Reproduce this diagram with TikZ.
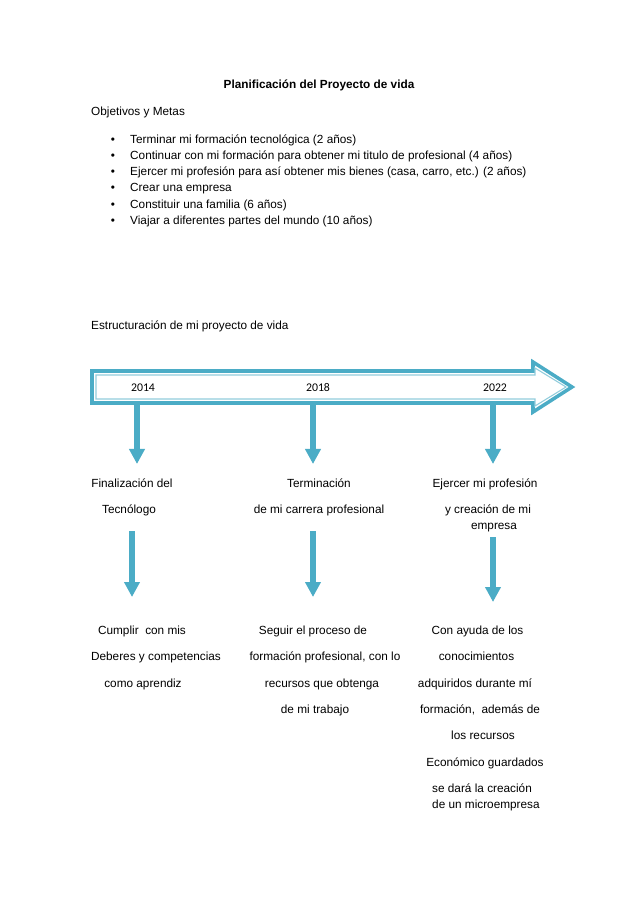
\documentclass[tikz,border=0pt]{standalone}
\usepackage{fontspec}
\setmainfont{Liberation Sans}
\newfontfamily\yearfont{Carlito}
\usetikzlibrary{arrows.meta}
\definecolor{TimeBlue}{HTML}{4BACC6}
\definecolor{TimeLight}{HTML}{92CDDC}
\tikzset{
  txt/.style={font=\fontsize{11}{13}\selectfont, inner sep=0pt, anchor=mid, yshift=-1.8pt},
  lefttxt/.style={txt, anchor=mid west},
  year/.style={font=\yearfont\fontsize{11}{13}\selectfont, inner sep=0pt, anchor=mid, yshift=-1.5pt},
  downarrow/.style={TimeBlue, line width=4.7pt, -{Triangle[width=14pt,length=14pt]}},
}

\begin{document}
\begin{tikzpicture}[x=0.933pt, y=-0.933pt]
    \useasboundingbox[fill=white] (0,0) rectangle (638,902);

    % Title and goals
    \node[txt, font=\bfseries\fontsize{11}{13}\selectfont] (title) at (319,84) {Planificación del Proyecto de vida};
    \node[lefttxt] (goals) at (91,111) {Objetivos y Metas};
    \foreach \n/\y/\item in {
        1/138.3/{Terminar mi formación tecnológica (2 años)},
        2/154.5/{Continuar con mi formación para obtener mi titulo de profesional (4 años)},
        3/170.8/{Ejercer mi profesión para así obtener mis bienes (casa, carro, etc.) (2 años)},
        4/187/{Crear una empresa},
        5/203.3/{Constituir una familia (6 años)},
        6/219.5/{Viajar a diferentes partes del mundo (10 años)}}{
        \node[txt] (dot\n) at (113,\y) {\textbullet};
        \node[lefttxt] (item\n) at (130,\y) {\item};
    }

    % Timeline
    \node[lefttxt] (plan) at (91,325) {Estructuración de mi proyecto de vida};
    \draw[TimeBlue, line width=3.3pt, line join=miter]
        (92,371) -- (533,371) -- (533,362) -- (572,387) -- (533,412) -- (533,403) -- (92,403) -- cycle;
    \draw[TimeLight, line width=1pt]
        (96,375) -- (535,375) -- (535,368) -- (566,387) -- (535,406) -- (535,399) -- (96,399) -- cycle;
    \node[year] (y2014) at (143,387) {2014};
    \node[year] (y2018) at (318,387) {2018};
    \node[year] (y2022) at (495,387) {2022};

    % Arrows down from the timeline
    \coordinate (top1) at (137,404);
    \coordinate (top2) at (313,404);
    \coordinate (top3) at (493,404);
    \coordinate (end1) at (137,464);
    \coordinate (end2) at (313,464);
    \coordinate (end3) at (493,464);
    \foreach \i in {1,2,3}
        \draw[downarrow] (top\i) -- (end\i);

    % First results
    \node[txt] (fin1) at (132,483) {Finalización del};
    \node[txt] (fin2) at (129,509) {Tecnólogo};
    \node[txt] (term1) at (319,483) {Terminación};
    \node[txt] (term2) at (319,509) {de mi carrera profesional};
    \node[txt] (ejer1) at (485,483) {Ejercer mi profesión};
    \node[txt] (ejer2) at (488,509) {y creación de mi};
    \node[txt] (ejer3) at (494,525) {empresa};

    % Second arrows
    \coordinate (mid1) at (132,531);
    \coordinate (mid2) at (313,531);
    \coordinate (mid3) at (493,537);
    \coordinate (low1) at (132,597);
    \coordinate (low2) at (313,597);
    \coordinate (low3) at (493,602);
    \foreach \i in {1,2,3}
        \draw[downarrow] (mid\i) -- (low\i);

    % Second results
    \node[txt] (cum1) at (142,630) {Cumplir\ \ con mis};
    \node[txt] (cum2) at (156,656) {Deberes y competencias};
    \node[txt] (cum3) at (143,683) {como aprendiz};
    \node[txt] (seg1) at (313,630) {Seguir el proceso de};
    \node[txt] (seg2) at (325,656) {formación profesional, con lo};
    \node[txt] (seg3) at (322,683) {recursos que obtenga};
    \node[txt] (seg4) at (315,709) {de mi trabajo};
    \node[txt] (con1) at (477.5,630) {Con ayuda de los};
    \node[txt] (con2) at (476.5,656) {conocimientos};
    \node[txt] (con3) at (475,683) {adquiridos durante mí};
    \node[txt] (con4) at (480,709) {formación,\ \ además de};
    \node[txt] (con5) at (483,735) {los recursos};
    \node[txt] (con6) at (485,762) {Económico guardados};
    \node[lefttxt] (con7) at (432,788) {se dará la creación};
    \node[lefttxt] (con8) at (432,804) {de un microempresa};
\end{tikzpicture}
\end{document}
